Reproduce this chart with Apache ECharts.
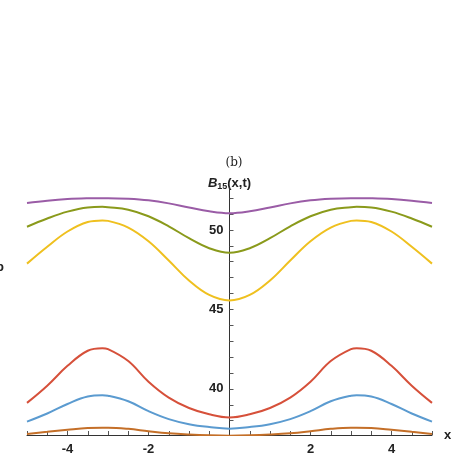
<!DOCTYPE html><html><head><meta charset="utf-8"><script src="https://cdn.jsdelivr.net/npm/echarts@6/dist/echarts.min.js"></script></head><body style="margin:0"><div id="c" style="width:474px;height:474px"></div><script>
const xsHalf=[0,0.5,1,1.5,2,2.5,3,3.14,3.5,4,4.5,5];
const halfPurple=[51.05,51.17,51.41,51.67,51.86,51.96,52.0,52.0,51.99,51.94,51.84,51.7];
const halfGreen=[48.56,48.85,49.48,50.23,50.86,51.27,51.43,51.45,51.41,51.15,50.72,50.2];
const halfYellow=[45.56,45.91,46.82,48.08,49.29,50.15,50.57,50.6,50.5,49.9,48.94,47.88];
const halfRed=[38.2,38.4,38.8,39.45,40.45,41.75,42.5,42.56,42.4,41.45,40.2,39.12];
const halfBlue=[37.5,37.6,37.78,38.1,38.6,39.22,39.57,39.6,39.52,39.05,38.45,37.94];
const halfOrange=[37.06,37.08,37.13,37.21,37.34,37.49,37.56,37.56,37.54,37.43,37.3,37.17];
const yTicks=[38,39,40,41,42,43,44,45,46,47,48,49,50,51,52];
const yLabels=[40,45,50];
const xTicks=[-5,-4.5,-4,-3.5,-3,-2.5,-2,-1.5,-1,-0.5,0.5,1,1.5,2,2.5,3,3.5,4,4.5,5];
const xLabels=[-4,-2,2,4];
function pts(h){const r=[];for(let i=xsHalf.length-1;i>0;i--)r.push([-xsHalf[i],h[i]]);for(let i=0;i<xsHalf.length;i++)r.push([xsHalf[i],h[i]]);return r;}
const S=[[halfPurple,'#9a5ca6'],[halfGreen,'#8a9a1b'],[halfYellow,'#efc01f'],[halfRed,'#d6503a'],[halfBlue,'#5b9bd0'],[halfOrange,'#c46f28']];
const ch=echarts.init(document.getElementById('c'));
ch.setOption({animation:false,
title:{text:'(b)',left:229,top:152,textAlign:'center',textStyle:{fontFamily:'DejaVu Serif',fontWeight:'normal',fontSize:12,color:'#222'}},
grid:{left:27,right:42,top:187,bottom:39},
xAxis:{type:'value',min:-5,max:5,axisLine:{onZero:false,lineStyle:{color:'#333'}},
 axisTick:{customValues:xTicks,length:4,inside:true,lineStyle:{color:'#555'}},
 axisLabel:{customValues:xLabels,fontWeight:'bold',fontSize:13,color:'#222',fontFamily:'Liberation Sans',margin:8},
 splitLine:{show:false},name:'x',nameGap:12,nameTextStyle:{fontWeight:'bold',fontSize:13,color:'#222',verticalAlign:'middle'}},
yAxis:{type:'value',min:37.1,max:52.7,offset:-202.5,axisLine:{onZero:false,lineStyle:{color:'#333'}},
 axisTick:{customValues:yTicks,length:4,inside:true,lineStyle:{color:'#555'}},
 axisLabel:{customValues:yLabels,fontWeight:'bold',fontSize:13,color:'#222',fontFamily:'Liberation Sans',margin:6},
 splitLine:{show:false},name:'{b|B}{s|15}{n|(x,t)}',nameGap:-4,
 nameTextStyle:{rich:{b:{fontWeight:'bold',fontStyle:'italic',fontSize:13,color:'#222'},s:{fontWeight:'bold',fontSize:9,color:'#222',verticalAlign:'bottom',padding:[6,0,0,0]},n:{fontWeight:'bold',fontSize:13,color:'#222'}}}},
graphic:[{type:'text',left:-4,top:261,style:{text:'b',font:'bold 13px Liberation Sans',fill:'#222'}}],
series:S.map(([h,c])=>({type:'line',data:pts(h),smooth:0.4,showSymbol:false,lineStyle:{color:c,width:2}}))
});
</script></body></html>
